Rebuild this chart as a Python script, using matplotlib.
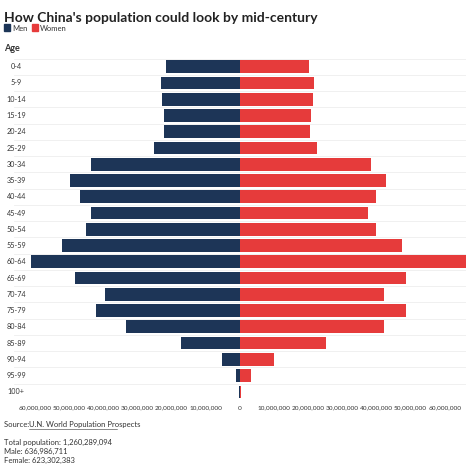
import matplotlib
matplotlib.use("Agg")
import matplotlib.pyplot as plt
from matplotlib.ticker import FuncFormatter
from matplotlib.transforms import blended_transform_factory

plt.rcParams['font.family'] = ['Lato', 'DejaVu Sans']

ages = ["0-4","5-9","10-14","15-19","20-24","25-29","30-34","35-39","40-44","45-49",
        "50-54","55-59","60-64","65-69","70-74","75-79","80-84","85-89","90-94","95-99","100+"]
men = [21.7,23.1,22.8,22.2,22.2,25.2,43.6,49.8,46.8,43.6,45.1,52.1,61.2,48.3,39.5,42.1,33.4,17.3,5.3,1.2,0.15]
women = [20.2,21.7,21.4,20.8,20.5,22.5,38.3,42.7,39.8,37.5,39.8,47.4,66.7,48.6,42.1,48.6,42.1,25.2,10.0,3.2,0.3]
men = [v*1e6 for v in men]
women = [v*1e6 for v in women]

navy = "#1d3557"
red = "#e63b3b"

fig = plt.figure(figsize=(4.74, 4.67), dpi=100)
ax = fig.add_axes([0.0295, 0.1435, 0.9535, 0.731])
y = list(range(len(ages)))
ax.barh(y, [-m for m in men], height=0.78, color=navy, zorder=2)
ax.barh(y, women, height=0.78, color=red, zorder=2)
ax.set_xlim(-66.2e6, 66.2e6)
ax.set_ylim(len(ages)-0.5, -0.5)
ax.set_yticks([])
tr = blended_transform_factory(ax.transAxes, ax.transData)
for i, a in enumerate(ages):
    ax.text(0.005, i, a, transform=tr, ha='center', va='center', fontsize=5.2, color='#333333')
for i in range(len(ages)+1):
    ax.axhline(i-0.5, color='#eeeeee', lw=0.6, zorder=0)
ticks = [-60e6,-50e6,-40e6,-30e6,-20e6,-10e6,0,10e6,20e6,30e6,40e6,50e6,60e6]
ax.set_xticks(ticks)
ax.xaxis.set_major_formatter(FuncFormatter(lambda v, p: f"{abs(int(v)):,}"))
ax.tick_params(axis='x', labelsize=4.6, colors='#333333', length=0, pad=4)
for s in ax.spines.values():
    s.set_visible(False)

fig.text(0.008, 0.975, "How China's population could look by mid-century", fontsize=10, fontweight='bold', va='top', color='#222222')
fig.patches.append(plt.Rectangle((0.008, 0.933), 0.013, 0.015, color=navy, transform=fig.transFigure, figure=fig))
fig.text(0.025, 0.940, "Men", fontsize=5.5, va='center', color='#333333')
fig.patches.append(plt.Rectangle((0.068, 0.933), 0.013, 0.015, color=red, transform=fig.transFigure, figure=fig))
fig.text(0.085, 0.940, "Women", fontsize=5.5, va='center', color='#333333')
fig.text(0.008, 0.897, "Age", fontsize=6.5, fontweight='bold', va='center', color='#333333')

fig.text(0.008, 0.090, "Source: ", fontsize=5.5, va='center', color='#333333')
fig.text(0.062, 0.090, "U.N. World Population Prospects", fontsize=5.5, va='center', color='#333333')
fig.add_artist(plt.Line2D([0.062, 0.247], [0.082, 0.082], color='#333333', lw=0.4, transform=fig.transFigure))
fig.text(0.008, 0.053, "Total population: 1,260,289,094", fontsize=5.5, va='center', color='#333333')
fig.text(0.008, 0.033, "Male: 636,986,711", fontsize=5.5, va='center', color='#333333')
fig.text(0.008, 0.013, "Female: 623,302,383", fontsize=5.5, va='center', color='#333333')

fig.savefig("out.png", dpi=100)
